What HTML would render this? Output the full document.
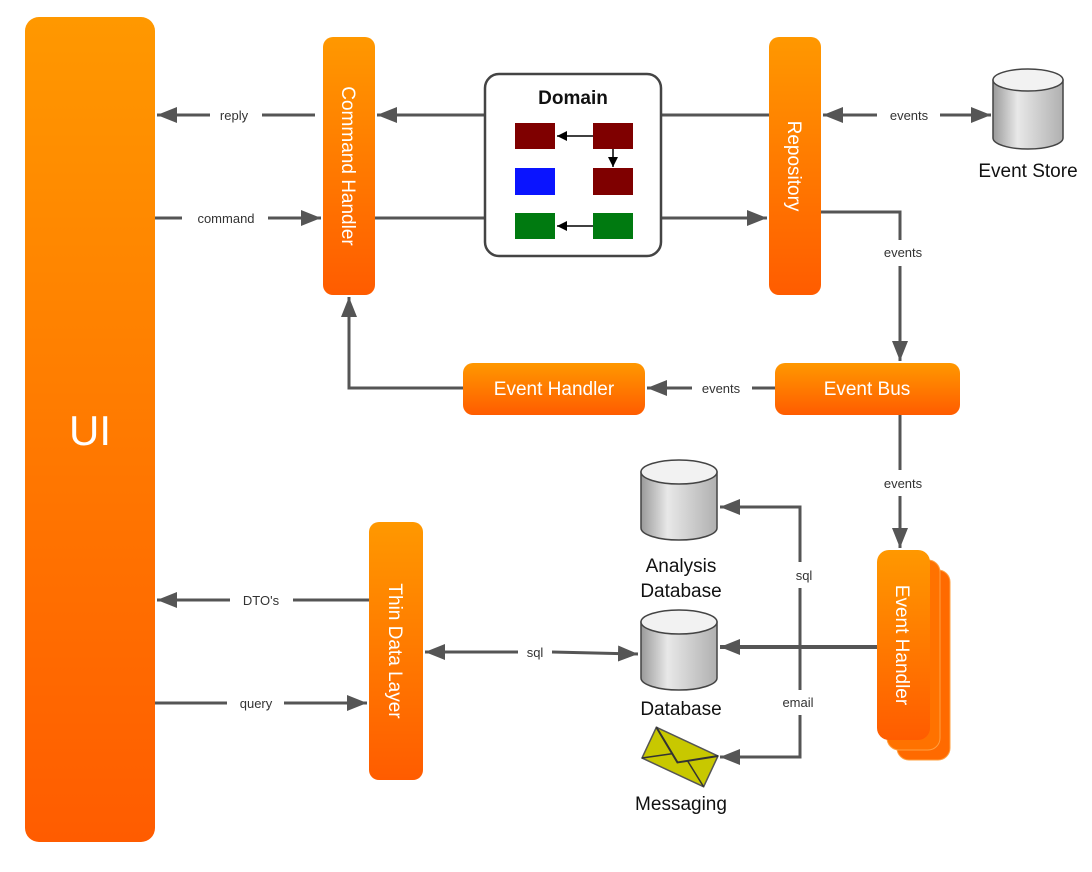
<!DOCTYPE html>
<html><head><meta charset="utf-8"><style>
html,body{margin:0;padding:0;background:#fff;}
svg{display:block;font-family:"Liberation Sans",sans-serif;}
</style></head><body>
<svg width="1092" height="872" viewBox="0 0 1092 872" xmlns="http://www.w3.org/2000/svg">
<defs>
<linearGradient id="og" x1="0" y1="0" x2="0" y2="1">
<stop offset="0" stop-color="#ff9800"/><stop offset="1" stop-color="#ff5c00"/>
</linearGradient>
<linearGradient id="cyl" x1="0" y1="0" x2="1" y2="0">
<stop offset="0" stop-color="#9a9a9a"/><stop offset="0.35" stop-color="#e8e8e8"/><stop offset="1" stop-color="#b0b0b0"/>
</linearGradient>
<marker id="ah" markerWidth="8" markerHeight="8" refX="7" refY="4" orient="auto" markerUnits="userSpaceOnUse" viewBox="0 0 8 8">
<path d="M0,0 L8,4 L0,8 z" fill="#555"/>
</marker>
<marker id="a" viewBox="0 0 20 16" refX="20" refY="8" markerWidth="20" markerHeight="16" orient="auto-start-reverse" markerUnits="userSpaceOnUse">
<path d="M0,0 L20,8 L0,16 z" fill="#555"/>
</marker>
<marker id="s" viewBox="0 0 10 10" refX="10" refY="5" markerWidth="10" markerHeight="10" orient="auto" markerUnits="userSpaceOnUse">
<path d="M0,0 L10,5 L0,10 z" fill="#000"/>
</marker>
</defs>

<g stroke="#555" stroke-width="3" fill="none">
<!-- reply / command -->
<line x1="210" y1="115" x2="157" y2="115" marker-end="url(#a)"/>
<line x1="262" y1="115" x2="315" y2="115"/>
<line x1="155" y1="218" x2="182" y2="218"/>
<line x1="268" y1="218" x2="321" y2="218" marker-end="url(#a)"/>
<!-- domain lines -->
<line x1="484" y1="115" x2="377" y2="115" marker-end="url(#a)"/>
<line x1="662" y1="115" x2="769" y2="115"/>
<line x1="375" y1="218" x2="484" y2="218"/>
<line x1="662" y1="218" x2="767" y2="218" marker-end="url(#a)"/>
<!-- repo events -->
<line x1="877" y1="115" x2="823" y2="115" marker-end="url(#a)"/>
<line x1="940" y1="115" x2="991" y2="115" marker-end="url(#a)"/>
<!-- repo to bus -->
<polyline points="821,212 900,212 900,240"/>
<line x1="900" y1="266" x2="900" y2="361" marker-end="url(#a)"/>
<!-- bus to handler -->
<line x1="692" y1="388" x2="647" y2="388" marker-end="url(#a)"/>
<line x1="752" y1="388" x2="775" y2="388"/>
<!-- handler to command handler -->
<polyline points="463,388 349,388 349,297" marker-end="url(#a)"/>
<!-- bus down -->
<line x1="900" y1="415" x2="900" y2="470"/>
<line x1="900" y1="496" x2="900" y2="548" marker-end="url(#a)"/>
<!-- event handler to db -->
<line x1="877" y1="647" x2="720" y2="647" stroke-width="4" marker-end="url(#a)"/>
<!-- sql to analysis -->
<polyline points="800,562 800,507 720,507" marker-end="url(#a)"/>
<line x1="800" y1="588" x2="800" y2="690"/>
<polyline points="800,715 800,757 720,757" marker-end="url(#a)"/>
<!-- thin data layer -->
<line x1="518" y1="652" x2="425" y2="652" marker-end="url(#a)"/>
<line x1="552" y1="652" x2="638" y2="654" marker-end="url(#a)"/>
<line x1="230" y1="600" x2="157" y2="600" marker-end="url(#a)"/>
<line x1="293" y1="600" x2="369" y2="600"/>
<line x1="155" y1="703" x2="227" y2="703"/>
<line x1="284" y1="703" x2="367" y2="703" marker-end="url(#a)"/>
</g>

<g font-size="13" fill="#333" text-anchor="middle">
<text x="234" y="120">reply</text>
<text x="226" y="223">command</text>
<text x="909" y="120">events</text>
<text x="903" y="257">events</text>
<text x="721" y="393">events</text>
<text x="903" y="488">events</text>
<text x="804" y="580">sql</text>
<text x="798" y="707">email</text>
<text x="535" y="657">sql</text>
<text x="261" y="605">DTO's</text>
<text x="256" y="708">query</text>
</g>

<!-- UI -->
<rect x="25" y="17" width="130" height="825" rx="14" fill="url(#og)"/>
<text x="90" y="445" font-size="42" fill="#fff" text-anchor="middle">UI</text>

<!-- Command Handler -->
<rect x="323" y="37" width="52" height="258" rx="10" fill="url(#og)"/>
<text transform="translate(342,166) rotate(90)" font-size="19" fill="#fff" text-anchor="middle">Command Handler</text>

<!-- Repository -->
<rect x="769" y="37" width="52" height="258" rx="10" fill="url(#og)"/>
<text transform="translate(788,166) rotate(90)" font-size="19" fill="#fff" text-anchor="middle">Repository</text>

<!-- Domain -->
<rect x="485" y="74" width="176" height="182" rx="14" fill="#fff" stroke="#444" stroke-width="2.5"/>
<text x="573" y="104" font-size="19" font-weight="bold" text-anchor="middle" fill="#111">Domain</text>
<rect x="515" y="123" width="40" height="26" fill="#7f0000"/>
<rect x="593" y="123" width="40" height="26" fill="#7f0000"/>
<rect x="515" y="168" width="40" height="27" fill="#0a14ff"/>
<rect x="593" y="168" width="40" height="27" fill="#7f0000"/>
<rect x="515" y="213" width="40" height="26" fill="#007a10"/>
<rect x="593" y="213" width="40" height="26" fill="#007a10"/>
<line x1="593" y1="136" x2="557" y2="136" stroke="#000" stroke-width="1.5" marker-end="url(#s)"/>
<line x1="613" y1="149" x2="613" y2="167" stroke="#000" stroke-width="1.5" marker-end="url(#s)"/>
<line x1="593" y1="226" x2="557" y2="226" stroke="#000" stroke-width="1.5" marker-end="url(#s)"/>

<!-- Event Store -->
<g stroke="#444" stroke-width="1.5">
<path d="M993,80 L993,138 A35,11 0 0 0 1063,138 L1063,80 Z" fill="url(#cyl)"/>
<ellipse cx="1028" cy="80" rx="35" ry="11" fill="#f2f2f2"/>
</g>
<text x="1028" y="177" font-size="19" text-anchor="middle" fill="#111">Event Store</text>

<!-- Event Bus / Event Handler -->
<rect x="775" y="363" width="185" height="52" rx="10" fill="url(#og)"/>
<text x="867" y="395" font-size="19" fill="#fff" text-anchor="middle">Event Bus</text>
<rect x="463" y="363" width="182" height="52" rx="10" fill="url(#og)"/>
<text x="554" y="395" font-size="19" fill="#fff" text-anchor="middle">Event Handler</text>

<!-- stacked Event Handler -->
<rect x="897" y="570" width="53" height="190" rx="12" fill="#ff6a00" stroke="#ffa040" stroke-width="1"/>
<rect x="887" y="560" width="53" height="190" rx="12" fill="#ff7200" stroke="#ffa040" stroke-width="1"/>
<rect x="877" y="550" width="53" height="190" rx="12" fill="url(#og)"/>
<text transform="translate(896,645) rotate(90)" font-size="19" fill="#fff" text-anchor="middle">Event Handler</text>

<!-- Thin Data Layer -->
<rect x="369" y="522" width="54" height="258" rx="10" fill="url(#og)"/>
<text transform="translate(389,651) rotate(90)" font-size="19" fill="#fff" text-anchor="middle">Thin Data Layer</text>

<!-- Analysis DB -->
<g stroke="#444" stroke-width="1.5">
<path d="M641,472 L641,528 A38,12 0 0 0 717,528 L717,472 Z" fill="url(#cyl)"/>
<ellipse cx="679" cy="472" rx="38" ry="12" fill="#f2f2f2"/>
<path d="M641,622 L641,678 A38,12 0 0 0 717,678 L717,622 Z" fill="url(#cyl)"/>
<ellipse cx="679" cy="622" rx="38" ry="12" fill="#f2f2f2"/>
</g>
<g font-size="19" text-anchor="middle" fill="#111">
<text x="681" y="572">Analysis</text>
<text x="681" y="597">Database</text>
<text x="681" y="715">Database</text>
<text x="681" y="810">Messaging</text>
</g>

<!-- envelope -->
<g transform="translate(680,757) rotate(25)">
<rect x="-34" y="-17" width="68" height="34" fill="#c8c800" stroke="#555" stroke-width="1.5"/>
<polyline points="-34,-17 0,6 34,-17" fill="none" stroke="#333" stroke-width="2"/>
<line x1="-34" y1="17" x2="-8" y2="0" stroke="#333" stroke-width="1.5"/>
<line x1="34" y1="17" x2="8" y2="0" stroke="#333" stroke-width="1.5"/>
</g>
</svg>
</body></html>
